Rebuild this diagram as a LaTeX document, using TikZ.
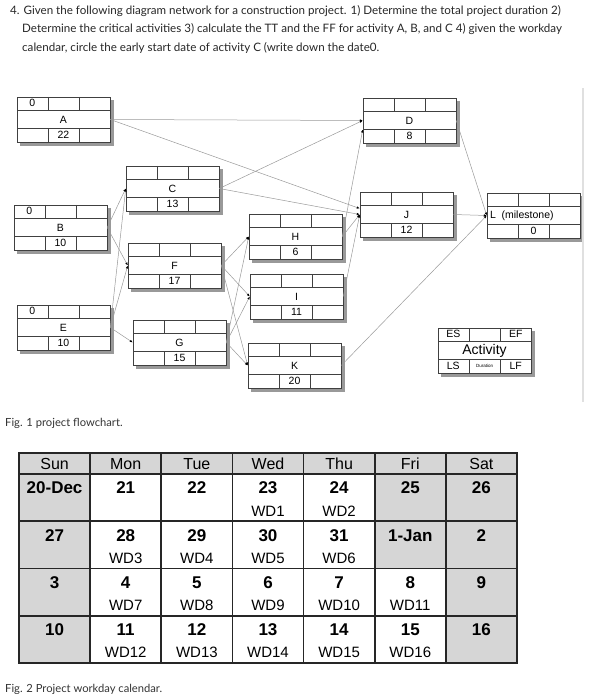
\documentclass[tikz,border=0pt]{standalone}
\usepackage{fontspec}
\setmainfont{Liberation Sans}
\newfontfamily\latofont{Lato}
\usetikzlibrary{arrows.meta}

\begin{document}
\begin{tikzpicture}[x=1pt, y=-1pt,
    act/.style={draw=black!75, line width=0.5pt, fill=white, minimum width=93pt, minimum height=45pt, inner sep=0pt,
        font=\fontsize{10.5}{12}\selectfont,
        path picture={
            \draw[black!75, line width=0.5pt]
                ([yshift=-13pt]path picture bounding box.north west) -- ([yshift=-13pt]path picture bounding box.north east)
                ([yshift=14pt]path picture bounding box.south west) -- ([yshift=14pt]path picture bounding box.south east)
                ([xshift=31pt]path picture bounding box.north west) -- ++(0,13)
                ([xshift=62pt]path picture bounding box.north west) -- ++(0,13)
                ([xshift=31pt]path picture bounding box.south west) -- ++(0,-14)
                ([xshift=62pt]path picture bounding box.south west) -- ++(0,-14);
        }},
    boxshade/.style={fill=black!40, draw=none},
    cell/.style={inner sep=0pt, font=\fontsize{10.5}{12}\selectfont},
    es/.style={label={[cell, anchor=center, xshift=15.5pt, yshift=-6.5pt]north west:#1}},
    dur/.style={label={[cell, anchor=center, yshift=7pt]south:#1}},
    link/.style={black!40, line width=0.5pt, -{Latex[length=3pt, width=2.4pt, color=black]}},
    question/.style={anchor=base west, inner sep=0pt, text=black!85, font=\latofont\fontsize{11.6}{13}\selectfont},
    caption/.style={anchor=base west, inner sep=0pt, text=black!80, font=\latofont\fontsize{11.2}{13}\selectfont},
    calgray/.style={fill=black!16},
    calline/.style={draw=black!85, line width=1.8pt},
    calhead/.style={inner sep=0pt, font=\fontsize{16}{18}\selectfont},
    calday/.style={inner sep=0pt, font=\bfseries\fontsize{17}{19}\selectfont},
    calwd/.style={inner sep=0pt, font=\fontsize{15}{17}\selectfont}]

    \useasboundingbox (0,0) rectangle (589,700);

    % --- QUESTION ---
    \node (q1) at (10,15) [question] {4. Given the following diagram network for a construction project. 1) Determine the total project duration 2)};
    \node (q2) at (22,33) [question] {Determine the critical activities 3) calculate the TT and the FF for activity A, B, and C 4) given the workday};
    \node (q3) at (22,51.5) [question] {calendar, circle the early start date of activity C (write down the date0.};

    % --- NETWORK ---
    \node (a) at (63.5,119.5) [act, es=0, dur=22] {A};
    \node (b) at (60.5,227.5) [act, es=0, dur=10] {B};
    \node (e) at (63.5,327.5) [act, es=0, dur=10] {E};
    \node (c) at (172.5,188.5) [act, dur=13] {C};
    \node (f) at (174.5,265.5) [act, dur=17] {F};
    \node (g) at (179.5,342.5) [act, dur=15] {G};
    \node (h) at (295.5,236.5) [act, dur=6] {H};
    \node (i) at (296.5,296.5) [act, dur=11] {I};
    \node (k) at (294.5,365.5) [act, dur=20] {K};
    \node (d) at (409.5,120.5) [act, dur=8] {D};
    \node (j) at (406.5,214.5) [act, dur=12] {J};
    \node (l) at (533.5,215.5) [act, dur=0] {\makebox[87pt][l]{L\ \ (milestone)}};

    % legend box
    \node (key) at (484.5,350.5) [act, font=\fontsize{14}{15}\selectfont,
        label={[cell, anchor=center, xshift=15.5pt, yshift=-6.5pt]north west:ES},
        label={[cell, anchor=center, xshift=-15.5pt, yshift=-6.5pt]north east:EF},
        label={[cell, anchor=center, xshift=15.5pt, yshift=7pt]south west:LS},
        label={[cell, anchor=center, yshift=7pt, font=\fontsize{4.5}{5}\selectfont]south:Duration},
        label={[cell, anchor=center, xshift=-15.5pt, yshift=7pt]south east:LF}] {Activity};

    % box shadows, right and bottom strips
    \foreach \bx in {a,b,c,d,e,f,g,h,i,j,k,l,key} {
        \path[boxshade] (\bx.north east) ++(0.3,3) rectangle ([shift={(3.3,3.3)}]\bx.south east);
        \path[boxshade] (\bx.south west) ++(3,0.3) rectangle ([shift={(3.3,3.3)}]\bx.south east);
    }

    \draw[link] (a.east) -- (d.west);
    \draw[link] (a.east) -- ([yshift=6pt]j.west);
    \draw[link] (c.east) -- (d.west);
    \draw[link] (c.east) -- (j.west);
    \draw[link] (b.east) -- (c.west);
    \draw[link] (b.east) -- (f.west);
    \draw[link] (e.east) -- (c.west);
    \draw[link] (e.east) -- (f.west);
    \draw[link] (e.east) -- (g.west);
    \draw[link] (f.east) -- (h.west);
    \draw[link] (f.east) -- (i.west);
    \draw[link] (f.east) -- (k.west);
    \draw[link] (g.east) -- (h.west);
    \draw[link] (g.east) -- (i.west);
    \draw[link] (g.east) -- (k.west);
    \draw[link] (h.east) -- ([yshift=-9pt]d.west);
    \draw[link] (h.east) -- (j.west);
    \draw[link] (i.east) -- (j.west);
    \draw[link] (d.east) -- (l.west);
    \draw[link] (j.east) -- (l.west);
    \draw[link] (k.east) -- (l.west);

    \draw[black!12, line width=1.2pt] (583,88) coordinate (edgetop) -- (583,402) coordinate (edgebot);

    \node (fig1) at (5,426) [caption] {Fig. 1 project flowchart.};

    % --- CALENDAR ---
    \fill[calgray] (19,453) rectangle (517,474);
    \foreach \c/\r in {0/0,0/1,0/2,0/3,6/0,6/1,6/2,6/3,5/0,5/1}
        \fill[calgray] (19+71.14*\c,474+47.25*\r) rectangle ++(71.14,47.25);
    \draw[calline] (19,453) rectangle (517,663);
    \foreach \c in {1,...,6}
        \draw[calline] (19+71.14*\c,453) -- (19+71.14*\c,663);
    \foreach \r in {474,521.25,568.5,615.75}
        \draw[calline] (19,\r) -- (517,\r);

    \foreach \t [count=\c from 0] in {Sun,Mon,Tue,Wed,Thu,Fri,Sat}
        \node (head-\c) at (54.57+71.14*\c,464) [calhead] {\t};
    \foreach \days [count=\r from 0] in {{20-Dec,21,22,23,24,25,26},{27,28,29,30,31,1-Jan,2},{3,4,5,6,7,8,9},{10,11,12,13,14,15,16}}
        \foreach \d [count=\c from 0] in \days
            \node (day-\r-\c) at (54.57+71.14*\c,488+47.25*\r) [calday] {\d};
    \foreach \c/\r/\n in {3/0/1,4/0/2,1/1/3,2/1/4,3/1/5,4/1/6,1/2/7,2/2/8,3/2/9,4/2/10,5/2/11,1/3/12,2/3/13,3/3/14,4/3/15,5/3/16}
        \node (wd-\n) at (54.57+71.14*\c,511+47.25*\r) [calwd] {WD\n};

    \node (fig2) at (5,692) [caption] {Fig. 2 Project workday calendar.};
\end{tikzpicture}
\end{document}
